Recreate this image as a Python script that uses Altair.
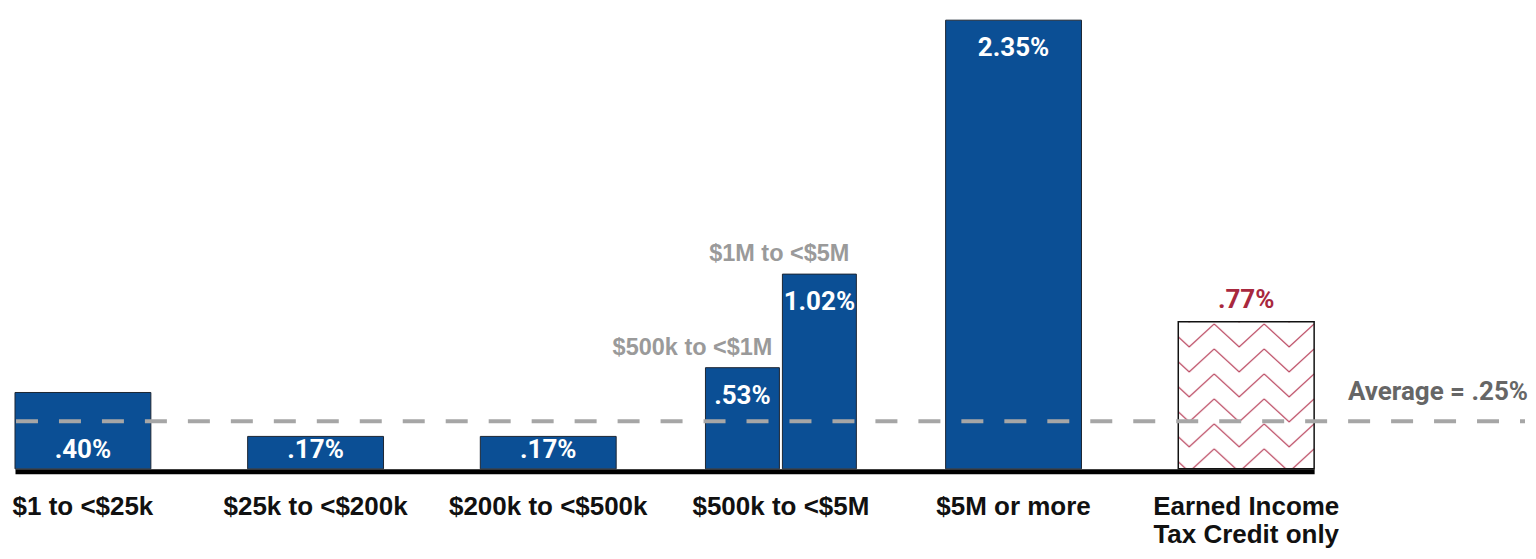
import altair as alt
import pandas as pd
import jinja2

# ---------------- data ----------------
categories = ["$1 to <$25k", "$25k to <$200k", "$200k to <$500k",
              "$500k to <$5M", "$5M or more", "Earned Income|Tax Credit only"]
single_categories = ["$1 to <$25k", "$25k to <$200k", "$200k to <$500k", "$5M or more"]
single_values = [0.40, 0.17, 0.17, 2.35]
split_category = "$500k to <$5M"
split_labels = ["$500k to <$1M", "$1M to <$5M"]
split_values = [0.53, 1.02]
eitc_category = "Earned Income|Tax Credit only"
eitc_value = 0.77
average_value = 0.25
average_label = "Average = .25%"


def pct(v):
    s = f"{v:.2f}"
    return (s[1:] if s.startswith("0") else s) + "%"


single = pd.DataFrame({"category": single_categories, "value": single_values,
                       "label": [pct(v) for v in single_values]})
split = pd.DataFrame({"category": [split_category] * len(split_labels), "sub": split_labels,
                      "value": split_values, "label": [pct(v) for v in split_values]})
eitc = pd.DataFrame({"category": [eitc_category], "value": [eitc_value], "label": [pct(eitc_value)]})
avg = pd.DataFrame({"value": [average_value], "label": [average_label]})

# ---------------- style ----------------
BLUE = "#0b4f95"
NARROW = "Liberation Sans Narrow, Roboto, Arial, sans-serif"
SANS = "Liberation Sans, Arial, sans-serif"
W, H = 1300, 449

xscale = alt.Scale(domain=categories, paddingInner=0.416, paddingOuter=0)
yscale = alt.Scale(domain=[0, 2.35], nice=False, zero=True)
offscale = alt.Scale(domain=split_labels, range=[-7.5, 143.5], paddingInner=0.039, paddingOuter=0)

xaxis = alt.Axis(title=None, labelAngle=0, ticks=False, tickSize=0, domain=True,
                 domainColor="#000000", domainWidth=5, offset=2.5, grid=False,
                 labelFont=SANS, labelFontWeight="bold", labelFontSize=26,
                 labelColor="#111111", labelPadding=22, labelLimit=0,
                 labelExpr="split(datum.label, '|')", labelLineHeight=28,
                 labelOverlap=False, labelBaseline="top")


def X():
    return alt.X("category:N", sort=categories, scale=xscale, axis=xaxis, title=None)


def Y():
    return alt.Y("value:Q", scale=yscale, axis=None, title=None)


def XO():
    return alt.XOffset("sub:N", sort=split_labels, scale=offscale)


bars = alt.Chart(single).mark_bar(color=BLUE, stroke="#1d2633", strokeWidth=1).encode(
    x=X(), y=Y())

split_bars = alt.Chart(split).mark_bar(color=BLUE, stroke="#1d2633", strokeWidth=1).encode(
    x=X(), xOffset=XO(), y=Y())

eitc_bar = alt.Chart(eitc).mark_bar(fill="url(#zigzag)", stroke="#111111", strokeWidth=1.5).encode(
    x=X(), y=Y())

avg_rule = alt.Chart(avg).mark_rule(strokeDash=[22, 21], strokeWidth=4, color="#a6a6a6").encode(
    y=Y(), x=alt.value(1), x2=alt.value(1511))

avg_text = alt.Chart(avg).mark_text(align="right", baseline="alphabetic", dy=-21, font=NARROW,
                                    fontWeight="bold", fontSize=26, color="#666666").encode(
    y=Y(), x=alt.value(1514), text="label:N")

tall_text = alt.Chart(single).transform_filter("datum.value > 0.5").mark_text(
    baseline="top", dy=15, font=NARROW, fontWeight="bold", fontSize=26, color="white").encode(
    x=X(), y=Y(), text="label:N")

short_text = alt.Chart(single).transform_filter("datum.value <= 0.5").mark_text(
    baseline="alphabetic", dy=-11, font=NARROW, fontWeight="bold", fontSize=26, color="white").encode(
    x=X(), y=alt.datum(0, scale=yscale, axis=None), text="label:N")

split_text = alt.Chart(split).mark_text(
    baseline="top", dy=15, font=NARROW, fontWeight="bold", fontSize=26, color="white").encode(
    x=X(), xOffset=XO(), y=Y(), text="label:N")

split_names = alt.Chart(split).mark_text(
    align="right", baseline="alphabetic", dx=30, dy=-13, font=SANS, fontWeight="bold",
    fontSize=23.5, color="#9a9a9a").encode(
    x=X(), xOffset=XO(), y=Y(), text="sub:N")

eitc_text = alt.Chart(eitc).mark_text(
    baseline="alphabetic", dy=-14, font=NARROW, fontWeight="bold", fontSize=26, color="#a8283e").encode(
    x=X(), y=Y(), text="label:N")

chart = alt.layer(
    bars, split_bars, eitc_bar, avg_rule, tall_text, short_text, split_text, split_names,
    eitc_text, avg_text
).properties(
    width=W, height=H, background="white",
    padding={"left": 4, "top": 11, "right": 0, "bottom": 0}
).configure_view(stroke=None)

TEMPLATE = jinja2.Template("""<!DOCTYPE html>
<html>
<head>
  <style>
    #{{ output_div }}.vega-embed { width: 100%; display: flex; }
  </style>
  <script type="text/javascript" src="{{ base_url }}/vega@{{ vega_version }}"></script>
  <script type="text/javascript" src="{{ base_url }}/vega-lite@{{ vegalite_version }}"></script>
  <script type="text/javascript" src="{{ base_url }}/vega-embed@{{ vegaembed_version }}"></script>
</head>
<body>
  <svg width="0" height="0" style="position:absolute">
    <defs>
      <pattern id="zigzag" patternUnits="userSpaceOnUse" x="0" y="4" width="50" height="25">
        <path d="M0,-25 L25,-2 L50,-25 M0,0 L25,23 L50,0 M0,25 L25,48 L50,25"
              fill="none" stroke="#b8405a" stroke-width="1.2"/>
      </pattern>
    </defs>
  </svg>
  <div id="{{ output_div }}"></div>
  <script>
    vegaEmbed("#{{ output_div }}", {{ spec }}, {{ embed_options }}).catch(console.error);
  </script>
</body>
</html>
""")

chart.save("out.html", embed_options={"renderer": "svg", "actions": False}, template=TEMPLATE)
